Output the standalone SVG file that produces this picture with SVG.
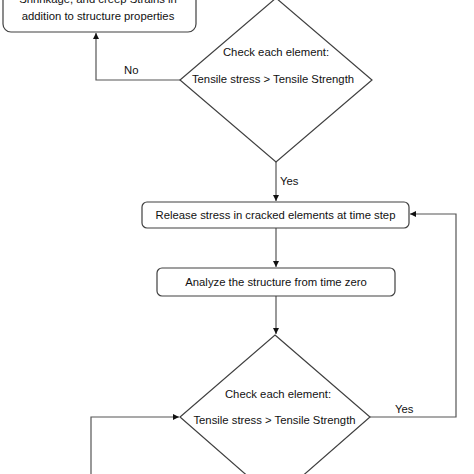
<svg xmlns="http://www.w3.org/2000/svg" width="474" height="474" viewBox="0 0 474 474">
<style>
.shape{fill:#fff;stroke:#404040;stroke-width:1.2}
.conn{fill:none;stroke:#555;stroke-width:1.2}
text{font-family:"Liberation Sans",Arial,sans-serif;font-size:11.3px;fill:#111;text-anchor:middle}
.lbl{text-anchor:start}
</style>
<defs>
<marker id="ah" viewBox="0 0 10 10" refX="10" refY="5" markerWidth="6" markerHeight="6" markerUnits="userSpaceOnUse" orient="auto">
<path d="M0,0 L10,5 L0,10 z" fill="#111"/>
</marker>
</defs>
<rect width="474" height="474" fill="#fff"/>
<g id="connectors">
<path class="conn" d="M180,80 H96 V33" marker-end="url(#ah)"/>
<path class="conn" d="M276,162 V201" marker-end="url(#ah)"/>
<path class="conn" d="M276,228 V267" marker-end="url(#ah)"/>
<path class="conn" d="M276,296 V334" marker-end="url(#ah)"/>
<path class="conn" d="M370,417 H456 V214 H410" marker-end="url(#ah)"/>
<path class="conn" d="M91,474 V417 H179" marker-end="url(#ah)"/>
<text class="lbl" x="124" y="74">No</text>
<text class="lbl" x="280" y="185">Yes</text>
<text class="lbl" x="395" y="413">Yes</text>
</g>
<g id="input">
<rect class="shape" x="3" y="-20" width="193" height="52" rx="8"/>
<text x="98" y="3">Shrinkage, and creep Strains in</text>
<text x="98" y="20">addition to structure properties</text>
</g>
<g id="check1">
<polygon class="shape" points="276,-2 372,80 276,162 180,80"/>
<text x="276" y="56">Check each element:</text>
<text x="273" y="83">Tensile stress &gt; Tensile Strength</text>
</g>
<g id="release">
<rect class="shape" x="142" y="202" width="267" height="26" rx="5"/>
<text x="275.5" y="219">Release stress in cracked elements at time step</text>
</g>
<g id="analyze">
<rect class="shape" x="157" y="268" width="238" height="28" rx="5"/>
<text x="276" y="286">Analyze the structure from time zero</text>
</g>
<g id="check2">
<polygon class="shape" points="275,335 370,417 275,500 180,417"/>
<text x="278" y="398">Check each element:</text>
<text x="274.5" y="424">Tensile stress &gt; Tensile Strength</text>
</g>
</svg>
